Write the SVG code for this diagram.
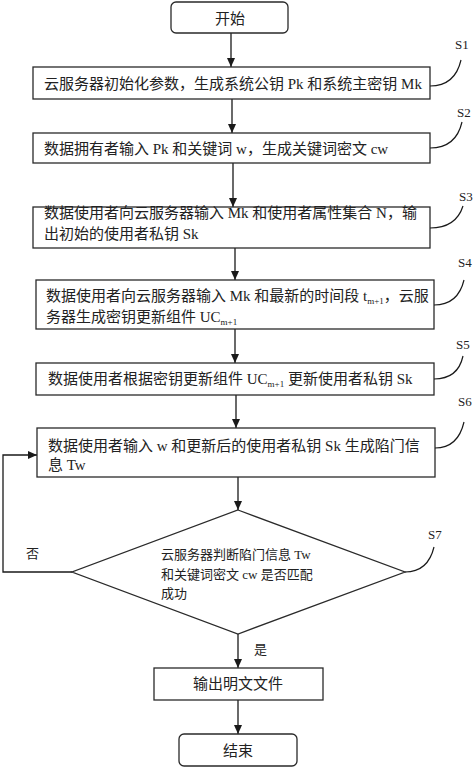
<svg xmlns="http://www.w3.org/2000/svg" width="474" height="769" viewBox="0 0 474 769">
<defs>
<marker id="arr" markerWidth="10" markerHeight="8" refX="9" refY="4" orient="auto" markerUnits="userSpaceOnUse">
<path d="M0,0 L9,4 L0,8 Z" fill="#1a1a1a"/>
</marker>
<style>
.box{fill:#fff;stroke:#2a2a2a;stroke-width:1.3}
.ln{fill:none;stroke:#1a1a1a;stroke-width:1.3}
.ld{fill:none;stroke:#1a1a1a;stroke-width:1.2}
.t{font-family:"Liberation Serif","Noto Sans CJK SC",serif;font-size:15px;fill:#222}
.d{font-family:"Liberation Serif","Noto Sans CJK SC",serif;font-size:13px;fill:#222}
.s{font-family:"Liberation Serif",serif;font-size:13px;fill:#222}
.sub{font-size:9px}
</style>
</defs>
<g id="connectors">
<line class="ln" x1="231" y1="33" x2="231" y2="67" marker-end="url(#arr)"/>
<line class="ln" x1="232" y1="99" x2="232" y2="133" marker-end="url(#arr)"/>
<line class="ln" x1="233" y1="163" x2="233" y2="207" marker-end="url(#arr)"/>
<line class="ln" x1="235" y1="248" x2="235" y2="280" marker-end="url(#arr)"/>
<line class="ln" x1="235" y1="329" x2="235" y2="363" marker-end="url(#arr)"/>
<line class="ln" x1="236" y1="395" x2="236" y2="428" marker-end="url(#arr)"/>
<line class="ln" x1="238" y1="477" x2="238" y2="510" marker-end="url(#arr)"/>
<line class="ln" x1="238" y1="634" x2="238" y2="668" marker-end="url(#arr)"/>
<line class="ln" x1="238" y1="700" x2="238" y2="734" marker-end="url(#arr)"/>
<polyline class="ln" points="72,572 3,572 3,455 37,455" marker-end="url(#arr)"/>
<text class="d" x="26" y="558">否</text>
<text class="d" x="254" y="654">是</text>
</g>
<g id="start">
<rect class="box" x="171" y="2" width="117" height="31" rx="5"/>
<text class="t" x="230" y="23.5" text-anchor="middle">开始</text>
</g>
<g id="s1">
<rect class="box" x="33" y="67" width="397" height="32"/>
<text class="t" x="44" y="89">云服务器初始化参数，生成系统公钥 Pk 和系统主密钥 Mk</text>
<path class="ld" d="M430,86 Q455,86 461,60"/>
<text class="s" x="455" y="49">S1</text>
</g>
<g id="s2">
<rect class="box" x="33" y="133" width="397" height="30"/>
<text class="t" x="44" y="154">数据拥有者输入 Pk 和关键词 w，生成关键词密文 cw</text>
<path class="ld" d="M430,148 Q456,148 462,122"/>
<text class="s" x="457" y="117">S2</text>
</g>
<g id="s3">
<rect class="box" x="33" y="207" width="397" height="41"/>
<text class="t" x="44" y="217.5">数据使用者向云服务器输入 Mk 和使用者属性集合 N，输</text>
<text class="t" x="44" y="238.5">出初始的使用者私钥 Sk</text>
<path class="ld" d="M430,228 Q456,228 463,206"/>
<text class="s" x="459" y="201">S3</text>
</g>
<g id="s4">
<rect class="box" x="36" y="280" width="398" height="49"/>
<text class="t" x="46" y="301">数据使用者向云服务器输入 Mk 和最新的时间段 t<tspan class="sub" dy="3">m+1</tspan><tspan dy="-3">，云服</tspan></text>
<text class="t" x="46" y="322">务器生成密钥更新组件 UC<tspan class="sub" dy="3">m+1</tspan></text>
<path class="ld" d="M434,305 Q458,305 464,280"/>
<text class="s" x="458" y="267">S4</text>
</g>
<g id="s5">
<rect class="box" x="36" y="363" width="398" height="32"/>
<text class="t" x="48" y="384">数据使用者根据密钥更新组件 UC<tspan class="sub" dy="3">m+1</tspan><tspan dy="-3"> 更新使用者私钥 Sk</tspan></text>
<path class="ld" d="M434,379 Q458,379 463,356"/>
<text class="s" x="456" y="349">S5</text>
</g>
<g id="s6">
<rect class="box" x="37" y="428" width="398" height="49"/>
<text class="t" x="48" y="450.5">数据使用者输入 w 和更新后的使用者私钥 Sk 生成陷门信</text>
<text class="t" x="48" y="470">息 Tw</text>
<path class="ld" d="M435,448 Q458,448 464,422"/>
<text class="s" x="458" y="406">S6</text>
</g>
<g id="s7">
<polygon class="box" points="238,510 405,572 238,634 72,572"/>
<text class="d" x="161" y="559">云服务器判断陷门信息 Tw</text>
<text class="d" x="161" y="579">和关键词密文 cw 是否匹配</text>
<text class="d" x="161" y="598">成功</text>
<path class="ld" d="M405,572 Q428,572 434,547"/>
<text class="s" x="428" y="539">S7</text>
</g>
<g id="output">
<rect class="box" x="154" y="668" width="169" height="32"/>
<text class="t" x="238" y="689" text-anchor="middle">输出明文文件</text>
</g>
<g id="end">
<rect class="box" x="179" y="734" width="118" height="32" rx="5"/>
<text class="t" x="238" y="755.5" text-anchor="middle">结束</text>
</g>
</svg>
